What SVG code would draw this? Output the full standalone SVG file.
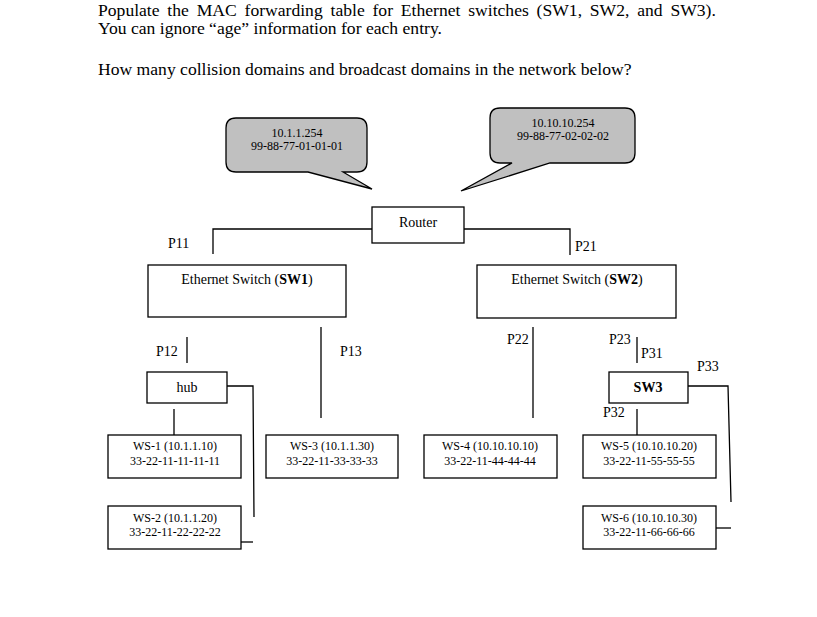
<svg xmlns="http://www.w3.org/2000/svg" width="817" height="617" viewBox="0 0 817 617">
<style>
text{font-family:"Liberation Serif","Times New Roman",serif;fill:#000}
.t{font-size:17.6px}
.l{font-size:14px}
.s{font-size:12px;text-anchor:middle}
.m{font-size:14px;text-anchor:middle}
.box{fill:#fff;stroke:#000;stroke-width:1.3}
.call{fill:#c0c0c0;stroke:#000;stroke-width:1.3}
.ln{fill:none;stroke:#000;stroke-width:1.3}
</style>
<rect width="817" height="617" fill="#fff"/>
<g id="title">
<text class="t" x="98" y="15.5" word-spacing="3.4">Populate the MAC forwarding table for Ethernet switches (SW1, SW2, and SW3).</text>
<text class="t" x="98" y="33.5">You can ignore “age” information for each entry.</text>
<text class="t" x="98" y="75">How many collision domains and broadcast domains in the network below?</text>
</g>
<g id="connectors">
<polyline class="ln" points="372,229 213,229 213,254"/>
<polyline class="ln" points="464,229 570,229 570,255"/>
<line class="ln" x1="187" y1="337" x2="187" y2="363"/>
<line class="ln" x1="321" y1="327" x2="321" y2="418"/>
<polyline class="ln" points="227,386 253,386 254,517"/>
<line class="ln" x1="241" y1="542" x2="253" y2="542"/>
<line class="ln" x1="174" y1="409" x2="174" y2="435"/>
<line class="ln" x1="533" y1="327" x2="533" y2="418"/>
<line class="ln" x1="637" y1="337" x2="637" y2="363"/>
<line class="ln" x1="637" y1="409" x2="637" y2="435"/>
<polyline class="ln" points="688,386 728,386 731,502"/>
<line class="ln" x1="716" y1="528" x2="731" y2="528"/>
</g>
<g id="callout1">
<path class="call" d="M236,118 H357 Q367,118 367,128 V162 Q367,172 357,172 H343 L372,189 L308,172 H236 Q226,172 226,162 V128 Q226,118 236,118 Z"/>
<text class="s" x="297" y="137">10.1.1.254</text>
<text class="s" x="297" y="150">99-88-77-01-01-01</text>
</g>
<g id="callout2">
<path class="call" d="M500,108 H625 Q635,108 635,118 V153 Q635,163 625,163 H550 L461,191 L512,163 H500 Q490,163 490,153 V118 Q490,108 500,108 Z"/>
<text class="s" x="563" y="127">10.10.10.254</text>
<text class="s" x="563" y="140">99-88-77-02-02-02</text>
</g>
<g id="router">
<rect class="box" x="372" y="207" width="92" height="36"/>
<text class="m" x="418" y="227">Router</text>
</g>
<g id="sw1">
<rect class="box" x="148" y="265" width="198" height="52"/>
<text class="m" x="247" y="284">Ethernet Switch (<tspan font-weight="bold">SW1</tspan>)</text>
</g>
<g id="sw2">
<rect class="box" x="477" y="265" width="199" height="53"/>
<text class="m" x="577" y="284">Ethernet Switch (<tspan font-weight="bold">SW2</tspan>)</text>
</g>
<g id="hub">
<rect class="box" x="147" y="372" width="80" height="31"/>
<text class="m" x="187" y="392">hub</text>
</g>
<g id="sw3">
<rect class="box" x="609" y="372" width="79" height="31"/>
<text class="m" x="648" y="392" font-weight="bold">SW3</text>
</g>
<g id="labels">
<text class="l" x="168" y="248">P11</text>
<text class="l" x="575" y="251">P21</text>
<text class="l" x="156" y="356">P12</text>
<text class="l" x="340" y="356">P13</text>
<text class="l" x="507" y="344">P22</text>
<text class="l" x="609" y="344">P23</text>
<text class="l" x="641" y="358">P31</text>
<text class="l" x="697" y="371">P33</text>
<text class="l" x="603" y="417">P32</text>
</g>
<g id="ws1">
<rect class="box" x="108" y="435" width="133" height="43"/>
<text class="s" x="175" y="450">WS-1 (10.1.1.10)</text>
<text class="s" x="175" y="465">33-22-11-11-11-11</text>
</g>
<g id="ws2">
<rect class="box" x="108" y="506" width="133" height="43"/>
<text class="s" x="175" y="522">WS-2 (10.1.1.20)</text>
<text class="s" x="175" y="536">33-22-11-22-22-22</text>
</g>
<g id="ws3">
<rect class="box" x="266" y="435" width="132" height="43"/>
<text class="s" x="332" y="450">WS-3 (10.1.1.30)</text>
<text class="s" x="332" y="465">33-22-11-33-33-33</text>
</g>
<g id="ws4">
<rect class="box" x="424" y="435" width="133" height="43"/>
<text class="s" x="490" y="450">WS-4 (10.10.10.10)</text>
<text class="s" x="490" y="465">33-22-11-44-44-44</text>
</g>
<g id="ws5">
<rect class="box" x="583" y="435" width="133" height="43"/>
<text class="s" x="649" y="450">WS-5 (10.10.10.20)</text>
<text class="s" x="649" y="465">33-22-11-55-55-55</text>
</g>
<g id="ws6">
<rect class="box" x="583" y="506" width="133" height="43"/>
<text class="s" x="649" y="522">WS-6 (10.10.10.30)</text>
<text class="s" x="649" y="536">33-22-11-66-66-66</text>
</g>
</svg>
